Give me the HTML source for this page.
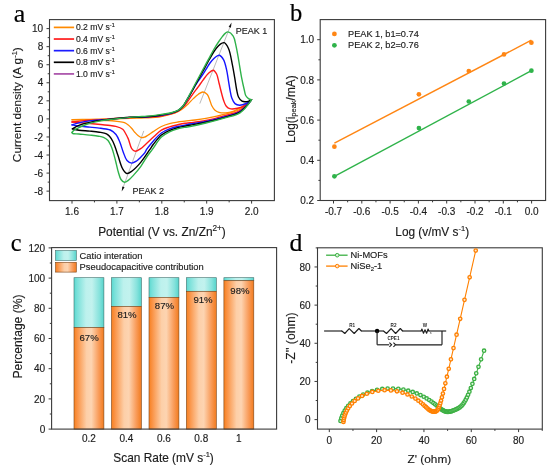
<!DOCTYPE html>
<html><head><meta charset="utf-8"><style>
html,body{margin:0;padding:0;background:#fff;}
svg{display:block;will-change:transform;}
text{stroke:#222;stroke-width:0.15px;}
</style></head><body>
<svg width="550" height="469" viewBox="0 0 550 469">
<rect width="550" height="469" fill="#fff"/>
<line x1="72" y1="200.6" x2="72" y2="203.6" stroke="#3a3a3a" stroke-width="1.0" />
<text x="72" y="214.9" font-size="10" text-anchor="middle" font-family='"Liberation Sans", sans-serif' fill="#1a1a1a" >1.6</text>
<line x1="94.45" y1="200.6" x2="94.45" y2="202.4" stroke="#3a3a3a" stroke-width="1.0" />
<line x1="116.9" y1="200.6" x2="116.9" y2="203.6" stroke="#3a3a3a" stroke-width="1.0" />
<text x="116.9" y="214.9" font-size="10" text-anchor="middle" font-family='"Liberation Sans", sans-serif' fill="#1a1a1a" >1.7</text>
<line x1="139.35" y1="200.6" x2="139.35" y2="202.4" stroke="#3a3a3a" stroke-width="1.0" />
<line x1="161.8" y1="200.6" x2="161.8" y2="203.6" stroke="#3a3a3a" stroke-width="1.0" />
<text x="161.8" y="214.9" font-size="10" text-anchor="middle" font-family='"Liberation Sans", sans-serif' fill="#1a1a1a" >1.8</text>
<line x1="184.25" y1="200.6" x2="184.25" y2="202.4" stroke="#3a3a3a" stroke-width="1.0" />
<line x1="206.7" y1="200.6" x2="206.7" y2="203.6" stroke="#3a3a3a" stroke-width="1.0" />
<text x="206.7" y="214.9" font-size="10" text-anchor="middle" font-family='"Liberation Sans", sans-serif' fill="#1a1a1a" >1.9</text>
<line x1="229.15" y1="200.6" x2="229.15" y2="202.4" stroke="#3a3a3a" stroke-width="1.0" />
<line x1="251.6" y1="200.6" x2="251.6" y2="203.6" stroke="#3a3a3a" stroke-width="1.0" />
<text x="251.6" y="214.9" font-size="10" text-anchor="middle" font-family='"Liberation Sans", sans-serif' fill="#1a1a1a" >2.0</text>
<line x1="46.5" y1="191.14" x2="49.5" y2="191.14" stroke="#3a3a3a" stroke-width="1.0" />
<text x="43.2" y="194.74" font-size="10" text-anchor="end" font-family='"Liberation Sans", sans-serif' fill="#1a1a1a" >-8</text>
<line x1="47.7" y1="182.11" x2="49.5" y2="182.11" stroke="#3a3a3a" stroke-width="1.0" />
<line x1="46.5" y1="173.08" x2="49.5" y2="173.08" stroke="#3a3a3a" stroke-width="1.0" />
<text x="43.2" y="176.68" font-size="10" text-anchor="end" font-family='"Liberation Sans", sans-serif' fill="#1a1a1a" >-6</text>
<line x1="47.7" y1="164.05" x2="49.5" y2="164.05" stroke="#3a3a3a" stroke-width="1.0" />
<line x1="46.5" y1="155.02" x2="49.5" y2="155.02" stroke="#3a3a3a" stroke-width="1.0" />
<text x="43.2" y="158.62" font-size="10" text-anchor="end" font-family='"Liberation Sans", sans-serif' fill="#1a1a1a" >-4</text>
<line x1="47.7" y1="145.99" x2="49.5" y2="145.99" stroke="#3a3a3a" stroke-width="1.0" />
<line x1="46.5" y1="136.96" x2="49.5" y2="136.96" stroke="#3a3a3a" stroke-width="1.0" />
<text x="43.2" y="140.56" font-size="10" text-anchor="end" font-family='"Liberation Sans", sans-serif' fill="#1a1a1a" >-2</text>
<line x1="47.7" y1="127.93" x2="49.5" y2="127.93" stroke="#3a3a3a" stroke-width="1.0" />
<line x1="46.5" y1="118.9" x2="49.5" y2="118.9" stroke="#3a3a3a" stroke-width="1.0" />
<text x="43.2" y="122.5" font-size="10" text-anchor="end" font-family='"Liberation Sans", sans-serif' fill="#1a1a1a" >0</text>
<line x1="47.7" y1="109.87" x2="49.5" y2="109.87" stroke="#3a3a3a" stroke-width="1.0" />
<line x1="46.5" y1="100.84" x2="49.5" y2="100.84" stroke="#3a3a3a" stroke-width="1.0" />
<text x="43.2" y="104.44" font-size="10" text-anchor="end" font-family='"Liberation Sans", sans-serif' fill="#1a1a1a" >2</text>
<line x1="47.7" y1="91.81" x2="49.5" y2="91.81" stroke="#3a3a3a" stroke-width="1.0" />
<line x1="46.5" y1="82.78" x2="49.5" y2="82.78" stroke="#3a3a3a" stroke-width="1.0" />
<text x="43.2" y="86.38" font-size="10" text-anchor="end" font-family='"Liberation Sans", sans-serif' fill="#1a1a1a" >4</text>
<line x1="47.7" y1="73.75" x2="49.5" y2="73.75" stroke="#3a3a3a" stroke-width="1.0" />
<line x1="46.5" y1="64.72" x2="49.5" y2="64.72" stroke="#3a3a3a" stroke-width="1.0" />
<text x="43.2" y="68.32" font-size="10" text-anchor="end" font-family='"Liberation Sans", sans-serif' fill="#1a1a1a" >6</text>
<line x1="47.7" y1="55.69" x2="49.5" y2="55.69" stroke="#3a3a3a" stroke-width="1.0" />
<line x1="46.5" y1="46.66" x2="49.5" y2="46.66" stroke="#3a3a3a" stroke-width="1.0" />
<text x="43.2" y="50.26" font-size="10" text-anchor="end" font-family='"Liberation Sans", sans-serif' fill="#1a1a1a" >8</text>
<line x1="47.7" y1="37.63" x2="49.5" y2="37.63" stroke="#3a3a3a" stroke-width="1.0" />
<line x1="46.5" y1="28.6" x2="49.5" y2="28.6" stroke="#3a3a3a" stroke-width="1.0" />
<text x="43.2" y="32.2" font-size="10" text-anchor="end" font-family='"Liberation Sans", sans-serif' fill="#1a1a1a" >10</text>
<rect x="49.5" y="19.6" width="224.9" height="181" fill="none" stroke="#3a3a3a" stroke-width="1.1"/>
<text x="13.8" y="21.7" font-size="26" text-anchor="start" font-family='"Liberation Serif", serif' fill="#000" style="stroke:#000;stroke-width:0.2px">a</text>
<text x="98.2" y="235.6" font-size="11.9" font-family='"Liberation Sans", sans-serif' fill="#1a1a1a">Potential (V vs. Zn/Zn<tspan font-size="8.2" dy="-5">2+</tspan><tspan dy="5">)</tspan></text>
<text transform="translate(21.4,104.7) rotate(-90)" font-size="11.8" text-anchor="middle" font-family='"Liberation Sans", sans-serif' fill="#1a1a1a">Current density (A g<tspan font-size="7.5" dy="-4.5">-1</tspan><tspan dy="4.5">)</tspan></text>
<line x1="53.8" y1="27.4" x2="74.1" y2="27.4" stroke="#ff8a00" stroke-width="1.7" />
<text x="75.9" y="30.4" font-size="8.6" font-family='"Liberation Sans", sans-serif' fill="#1a1a1a">0.2 mV s<tspan font-size="5.5" dy="-3">-1</tspan></text>
<line x1="53.8" y1="39.03" x2="74.1" y2="39.03" stroke="#ff1c1c" stroke-width="1.7" />
<text x="75.9" y="42.03" font-size="8.6" font-family='"Liberation Sans", sans-serif' fill="#1a1a1a">0.4 mV s<tspan font-size="5.5" dy="-3">-1</tspan></text>
<line x1="53.8" y1="50.66" x2="74.1" y2="50.66" stroke="#1c1cff" stroke-width="1.7" />
<text x="75.9" y="53.66" font-size="8.6" font-family='"Liberation Sans", sans-serif' fill="#1a1a1a">0.6 mV s<tspan font-size="5.5" dy="-3">-1</tspan></text>
<line x1="53.8" y1="62.29" x2="74.1" y2="62.29" stroke="#000000" stroke-width="1.7" />
<text x="75.9" y="65.29" font-size="8.6" font-family='"Liberation Sans", sans-serif' fill="#1a1a1a">0.8 mV s<tspan font-size="5.5" dy="-3">-1</tspan></text>
<line x1="53.8" y1="73.92" x2="74.1" y2="73.92" stroke="#a84ea8" stroke-width="1.7" />
<text x="75.9" y="76.92" font-size="8.6" font-family='"Liberation Sans", sans-serif' fill="#1a1a1a">1.0 mV s<tspan font-size="5.5" dy="-3">-1</tspan></text>
<text x="235.8" y="33.8" font-size="9" text-anchor="start" font-family='"Liberation Sans", sans-serif' fill="#1a1a1a" >PEAK 1</text>
<text x="132.5" y="194.2" font-size="9" text-anchor="start" font-family='"Liberation Sans", sans-serif' fill="#1a1a1a" >PEAK 2</text>
<line x1="199.8" y1="103.6" x2="230.6" y2="25.5" stroke="#a8a8a8" stroke-width="0.8" />
<line x1="143.8" y1="130.9" x2="122.6" y2="188.8" stroke="#a8a8a8" stroke-width="0.8" />
<path d="M231.6,22.6 L230.9,27.7 L228.65,26.8 Z" fill="#111"/>
<path d="M121.7,191.6 L124.55,187.3 L122.3,186.5 Z" fill="#111"/>
<path d="M72.00,119.60 C72.00,119.60 83.84,119.40 90.00,119.30 C96.49,119.20 103.33,119.17 110.00,119.00 C116.67,118.83 123.81,118.49 130.00,118.30 C135.36,118.13 140.00,118.13 145.00,117.90 C150.00,117.67 155.51,117.59 160.00,116.90 C163.75,116.32 167.06,115.35 170.20,114.40 C172.97,113.56 175.64,112.66 177.90,111.60 C179.82,110.70 181.36,109.80 183.00,108.60 C184.77,107.30 186.42,105.63 188.10,104.00 C189.86,102.30 191.54,100.27 193.30,98.60 C194.97,97.02 196.69,95.34 198.40,94.20 C199.86,93.23 201.33,91.97 202.80,92.00 C204.30,92.03 206.14,93.23 207.30,94.50 C208.60,95.92 209.13,98.46 209.90,100.40 C210.62,102.23 210.94,104.14 211.80,105.80 C212.65,107.43 213.72,109.18 215.00,110.30 C216.16,111.31 217.45,111.95 219.00,112.40 C220.86,112.93 223.25,113.04 225.50,112.90 C227.97,112.74 230.70,112.17 233.20,111.30 C235.80,110.40 238.30,108.93 240.80,107.50 C243.40,106.01 246.57,103.98 248.50,102.50 C249.78,101.52 251.50,99.80 251.50,99.80" fill="none" stroke="#ff8a00" stroke-width="1.3" stroke-linejoin="round" stroke-linecap="round"/>
<path d="M251.50,99.80 C251.50,99.80 244.33,106.81 240.00,109.20 C235.53,111.66 229.27,112.97 225.00,114.20 C221.88,115.10 219.73,115.55 216.80,116.20 C213.43,116.95 209.54,117.77 205.90,118.40 C202.28,119.03 198.56,119.54 195.00,120.00 C191.60,120.44 188.07,120.74 185.00,121.10 C182.37,121.41 180.20,121.60 177.70,122.00 C175.04,122.42 172.20,122.86 169.50,123.60 C166.76,124.35 164.04,125.22 161.40,126.50 C158.60,127.85 155.63,130.01 153.20,131.60 C151.20,132.91 149.40,134.30 147.80,135.30 C146.58,136.07 145.62,136.82 144.50,137.20 C143.48,137.54 142.42,137.82 141.40,137.60 C140.25,137.35 139.05,136.33 138.00,135.50 C136.91,134.64 135.99,133.60 135.00,132.50 C133.92,131.29 132.93,129.76 131.80,128.50 C130.69,127.26 129.55,126.00 128.30,125.00 C127.11,124.05 126.05,123.19 124.50,122.60 C122.48,121.84 119.62,121.74 117.00,121.40 C114.14,121.03 111.52,120.70 108.00,120.50 C103.03,120.21 96.00,120.30 90.00,120.20 C84.00,120.10 72.00,119.90 72.00,119.90" fill="none" stroke="#ff8a00" stroke-width="1.3" stroke-linejoin="round" stroke-linecap="round"/>
<path d="M72.00,122.00 C72.00,122.00 78.84,121.22 82.50,120.90 C86.48,120.55 90.79,120.30 95.00,120.00 C99.29,119.70 103.10,119.45 108.00,119.10 C114.37,118.65 123.36,117.79 130.00,117.50 C135.47,117.26 140.00,117.52 145.00,117.30 C150.00,117.08 155.52,116.81 160.00,116.20 C163.69,115.70 166.89,115.09 170.00,114.20 C172.85,113.39 175.55,112.65 178.00,111.20 C180.53,109.71 183.03,107.35 184.90,105.30 C186.52,103.53 187.46,101.70 188.80,99.80 C190.25,97.75 191.74,95.55 193.30,93.40 C194.93,91.16 196.78,88.82 198.40,86.60 C199.94,84.50 201.22,82.51 202.80,80.40 C204.51,78.12 206.37,75.17 208.30,73.40 C209.87,71.96 211.78,70.01 213.20,70.20 C214.52,70.37 215.70,72.33 216.60,74.00 C217.82,76.26 218.20,79.92 219.00,83.00 C219.84,86.24 220.66,89.86 221.50,93.00 C222.26,95.82 222.91,98.64 223.80,101.00 C224.55,102.98 225.18,104.98 226.30,106.30 C227.26,107.42 228.32,108.28 229.80,108.70 C231.80,109.26 234.98,108.84 237.50,108.30 C240.11,107.74 242.87,106.71 245.20,105.30 C247.54,103.88 251.50,99.80 251.50,99.80" fill="none" stroke="#ff1a1a" stroke-width="1.4" stroke-linejoin="round" stroke-linecap="round"/>
<path d="M251.50,99.80 C251.50,99.80 244.41,107.97 240.00,110.60 C235.58,113.24 230.33,114.03 225.00,115.60 C219.05,117.35 212.01,119.28 205.90,120.50 C200.39,121.60 193.81,122.33 190.00,122.80 C187.87,123.06 186.82,123.02 185.00,123.30 C182.79,123.64 180.20,124.22 177.70,124.80 C175.04,125.41 172.20,126.03 169.50,126.90 C166.76,127.79 163.92,128.57 161.40,130.10 C158.73,131.72 156.56,134.20 154.00,136.50 C151.12,139.08 147.47,142.69 145.00,144.90 C143.32,146.40 142.30,147.55 140.70,148.60 C139.04,149.69 136.78,151.46 135.20,151.30 C133.85,151.16 132.70,149.98 131.70,148.60 C130.18,146.49 129.53,141.76 128.30,138.90 C127.27,136.51 126.06,134.25 125.00,132.50 C124.21,131.19 123.86,130.12 122.70,129.20 C121.12,127.94 118.21,127.05 115.80,126.40 C113.32,125.73 110.56,125.62 108.00,125.30 C105.53,124.99 103.38,124.77 100.70,124.50 C97.43,124.17 93.88,123.86 89.80,123.50 C84.59,123.04 72.00,122.00 72.00,122.00" fill="none" stroke="#ff1a1a" stroke-width="1.4" stroke-linejoin="round" stroke-linecap="round"/>
<path d="M72.00,124.90 C72.00,124.90 76.32,123.51 78.90,122.90 C82.10,122.14 85.69,121.43 89.80,120.90 C95.08,120.21 101.65,120.05 108.00,119.50 C114.99,118.90 123.36,117.80 130.00,117.40 C135.47,117.07 140.00,117.30 145.00,117.00 C150.00,116.70 155.52,116.26 160.00,115.60 C163.69,115.06 166.88,114.47 170.00,113.60 C172.85,112.80 175.75,112.03 178.00,110.70 C179.99,109.52 181.50,108.10 183.00,106.30 C184.72,104.24 186.01,101.33 187.50,98.80 C189.01,96.23 190.44,93.62 192.00,91.00 C193.61,88.29 195.25,85.45 197.00,82.80 C198.72,80.19 200.76,77.67 202.40,75.20 C203.90,72.95 205.19,70.71 206.50,68.60 C207.71,66.66 208.73,64.72 210.00,63.00 C211.21,61.37 212.62,59.74 213.90,58.50 C214.95,57.49 215.98,56.56 217.00,56.00 C217.81,55.56 218.57,54.99 219.40,55.20 C220.69,55.53 222.39,57.69 223.50,59.60 C224.94,62.08 225.69,65.93 226.50,69.30 C227.35,72.85 227.80,76.83 228.40,80.40 C228.96,83.72 229.40,86.95 230.00,90.00 C230.55,92.80 230.88,95.63 231.80,98.00 C232.62,100.10 233.57,102.40 235.00,103.60 C236.23,104.63 237.85,105.13 239.50,105.20 C241.46,105.28 243.99,104.41 246.00,103.50 C247.99,102.60 251.50,99.80 251.50,99.80" fill="none" stroke="#1414ff" stroke-width="1.4" stroke-linejoin="round" stroke-linecap="round"/>
<path d="M251.50,99.80 C251.50,99.80 244.46,108.68 240.00,111.50 C235.61,114.28 230.34,115.11 225.00,116.70 C219.05,118.47 212.00,120.26 205.90,121.50 C200.38,122.62 193.80,123.28 190.00,124.00 C187.86,124.40 186.83,124.72 185.00,125.10 C182.80,125.55 180.19,125.90 177.70,126.50 C175.03,127.14 172.18,127.84 169.50,128.90 C166.74,129.99 163.97,131.14 161.40,133.00 C158.50,135.10 155.72,138.40 153.20,141.20 C150.80,143.87 148.02,147.22 146.60,149.40 C145.76,150.69 145.72,151.53 144.90,152.70 C143.76,154.33 141.52,156.52 140.00,158.00 C138.80,159.18 137.91,160.17 136.60,161.00 C135.18,161.90 133.30,163.18 131.70,163.10 C130.10,163.02 128.31,161.93 127.00,160.50 C125.24,158.58 124.28,154.73 123.10,151.70 C121.88,148.57 121.06,144.98 119.80,142.00 C118.66,139.30 117.67,136.54 116.00,134.50 C114.45,132.60 112.15,130.90 110.30,130.00 C108.87,129.31 107.59,129.29 106.10,129.00 C104.42,128.68 102.82,128.46 100.70,128.20 C97.70,127.83 93.43,127.45 89.80,127.10 C86.17,126.75 82.11,126.53 78.90,126.10 C76.33,125.76 72.00,124.90 72.00,124.90" fill="none" stroke="#1414ff" stroke-width="1.4" stroke-linejoin="round" stroke-linecap="round"/>
<path d="M72.40,128.80 C72.40,128.80 75.13,127.13 76.70,126.40 C78.46,125.58 80.43,124.84 82.50,124.20 C84.77,123.49 87.36,122.95 89.80,122.40 C92.23,121.85 94.41,121.35 97.10,120.90 C100.36,120.36 103.73,119.99 108.00,119.50 C114.05,118.81 123.36,117.74 130.00,117.30 C135.47,116.94 140.01,117.15 145.00,116.80 C150.01,116.45 155.52,115.84 160.00,115.20 C163.68,114.67 166.88,114.22 170.00,113.40 C172.85,112.65 175.75,111.92 178.00,110.60 C179.99,109.43 181.53,107.93 183.00,106.20 C184.56,104.36 185.76,101.78 187.00,99.80 C188.07,98.09 188.91,96.89 190.00,95.00 C191.50,92.39 193.32,88.61 195.00,85.50 C196.65,82.45 198.38,79.43 200.00,76.50 C201.54,73.71 202.98,71.08 204.50,68.30 C206.08,65.42 207.69,62.35 209.30,59.50 C210.85,56.76 212.39,53.87 214.00,51.50 C215.40,49.44 216.89,47.43 218.30,46.00 C219.38,44.90 220.42,43.95 221.50,43.40 C222.39,42.95 223.30,42.38 224.20,42.70 C225.64,43.21 227.31,45.95 228.50,48.50 C230.26,52.26 231.15,58.82 232.20,63.80 C233.19,68.50 233.93,73.12 234.70,77.60 C235.43,81.84 235.96,86.47 236.70,90.00 C237.26,92.68 237.50,95.05 238.50,97.00 C239.37,98.69 240.54,100.44 242.00,101.20 C243.40,101.92 245.40,101.84 247.00,101.60 C248.57,101.36 251.50,99.80 251.50,99.80" fill="none" stroke="#000000" stroke-width="1.4" stroke-linejoin="round" stroke-linecap="round"/>
<path d="M251.50,99.80 C251.50,99.80 244.49,109.07 240.00,112.00 C235.62,114.85 230.34,115.68 225.00,117.30 C219.05,119.11 212.00,120.84 205.90,122.20 C200.38,123.43 193.81,124.46 190.00,125.20 C187.86,125.62 186.82,125.83 185.00,126.20 C182.80,126.65 180.18,127.02 177.70,127.70 C175.02,128.43 172.17,129.31 169.50,130.50 C166.74,131.73 163.94,132.94 161.40,135.00 C158.45,137.40 155.26,141.80 153.20,144.50 C151.78,146.35 151.29,147.39 149.90,149.40 C147.62,152.71 143.85,158.66 140.70,162.40 C138.00,165.61 135.03,168.79 132.40,170.70 C130.49,172.08 128.53,173.81 126.90,173.50 C125.21,173.18 123.79,170.72 122.50,168.50 C120.65,165.33 119.30,159.41 118.00,155.60 C116.97,152.59 116.21,149.99 115.30,147.50 C114.51,145.34 113.88,143.39 112.90,141.50 C111.94,139.63 110.72,137.55 109.50,136.20 C108.55,135.15 107.81,134.43 106.50,133.80 C104.69,132.93 101.88,132.63 99.30,132.20 C96.36,131.71 93.08,131.43 89.80,131.10 C86.29,130.75 82.05,130.67 78.90,130.20 C76.44,129.84 72.40,128.80 72.40,128.80" fill="none" stroke="#000000" stroke-width="1.4" stroke-linejoin="round" stroke-linecap="round"/>
<path d="M72.00,132.50 C72.00,132.50 72.97,131.09 73.80,130.40 C75.01,129.40 77.02,128.42 78.90,127.50 C81.09,126.43 83.74,125.36 86.20,124.50 C88.61,123.66 91.06,123.00 93.50,122.40 C95.90,121.81 98.29,121.33 100.70,120.90 C103.12,120.47 105.26,120.17 108.00,119.80 C111.50,119.33 115.54,118.87 120.00,118.40 C125.61,117.81 134.44,116.89 139.00,116.60 C141.56,116.44 142.55,116.59 145.00,116.40 C148.88,116.10 155.49,115.22 160.00,114.60 C163.73,114.08 167.07,113.77 170.20,113.00 C172.98,112.32 175.70,111.66 177.90,110.40 C179.90,109.26 181.52,107.73 183.00,106.00 C184.55,104.19 185.75,101.70 186.90,99.70 C187.91,97.95 188.58,96.62 189.60,94.70 C190.98,92.10 192.79,88.55 194.40,85.50 C195.99,82.48 197.60,79.50 199.20,76.50 C200.80,73.50 202.40,70.46 204.00,67.50 C205.57,64.60 207.13,61.79 208.70,58.90 C210.30,55.96 211.84,52.86 213.50,50.00 C215.11,47.24 216.89,44.41 218.50,42.00 C219.87,39.94 221.22,37.99 222.50,36.40 C223.53,35.12 224.48,33.87 225.50,33.10 C226.29,32.50 226.98,31.80 227.90,31.90 C229.36,32.05 231.88,34.14 233.20,36.10 C234.81,38.50 235.15,42.18 236.00,45.80 C237.06,50.28 237.89,55.82 238.80,61.00 C239.75,66.41 240.61,72.48 241.60,77.60 C242.46,82.05 243.52,86.70 244.30,90.00 C244.82,92.21 244.90,94.01 245.70,95.50 C246.39,96.78 247.46,97.87 248.50,98.60 C249.42,99.24 251.50,99.80 251.50,99.80" fill="none" stroke="#2fb24a" stroke-width="1.4" stroke-linejoin="round" stroke-linecap="round"/>
<path d="M251.50,99.80 C251.50,99.80 244.55,109.79 240.00,112.80 C235.66,115.67 230.33,116.19 225.00,117.80 C219.04,119.60 211.99,121.50 205.90,123.00 C200.37,124.36 193.82,125.78 190.00,126.50 C187.87,126.90 186.82,126.96 185.00,127.30 C182.79,127.72 180.18,128.19 177.70,128.90 C175.02,129.66 172.15,130.49 169.50,131.80 C166.71,133.18 163.96,134.67 161.40,137.10 C158.18,140.15 154.93,146.02 152.40,149.40 C150.60,151.80 149.36,153.12 147.70,155.50 C145.53,158.61 143.14,163.24 140.70,166.60 C138.49,169.65 136.02,172.46 133.80,174.90 C131.91,176.97 130.08,179.13 128.30,180.40 C126.97,181.35 125.61,182.44 124.40,182.30 C123.18,182.16 121.94,180.83 121.00,179.50 C119.74,177.71 119.08,174.58 118.30,172.00 C117.50,169.35 116.98,166.53 116.30,163.80 C115.62,161.06 114.98,158.36 114.20,155.60 C113.39,152.76 112.62,149.65 111.50,147.00 C110.46,144.55 109.32,141.87 107.80,140.20 C106.56,138.83 105.06,137.97 103.50,137.30 C101.95,136.64 100.40,136.53 98.50,136.20 C96.01,135.77 92.87,135.45 89.80,135.10 C86.37,134.71 82.07,134.33 78.90,134.00 C76.45,133.74 73.25,133.89 72.40,133.30 C72.09,133.08 72.00,132.50 72.00,132.50" fill="none" stroke="#2fb24a" stroke-width="1.4" stroke-linejoin="round" stroke-linecap="round"/>
<line x1="333.5" y1="200.5" x2="333.5" y2="203.5" stroke="#3a3a3a" stroke-width="1.0" />
<text x="333.5" y="214.6" font-size="10" text-anchor="middle" font-family='"Liberation Sans", sans-serif' fill="#1a1a1a" >-0.7</text>
<line x1="347.65" y1="200.5" x2="347.65" y2="202.3" stroke="#3a3a3a" stroke-width="1.0" />
<line x1="361.8" y1="200.5" x2="361.8" y2="203.5" stroke="#3a3a3a" stroke-width="1.0" />
<text x="361.8" y="214.6" font-size="10" text-anchor="middle" font-family='"Liberation Sans", sans-serif' fill="#1a1a1a" >-0.6</text>
<line x1="375.95" y1="200.5" x2="375.95" y2="202.3" stroke="#3a3a3a" stroke-width="1.0" />
<line x1="390.1" y1="200.5" x2="390.1" y2="203.5" stroke="#3a3a3a" stroke-width="1.0" />
<text x="390.1" y="214.6" font-size="10" text-anchor="middle" font-family='"Liberation Sans", sans-serif' fill="#1a1a1a" >-0.5</text>
<line x1="404.25" y1="200.5" x2="404.25" y2="202.3" stroke="#3a3a3a" stroke-width="1.0" />
<line x1="418.4" y1="200.5" x2="418.4" y2="203.5" stroke="#3a3a3a" stroke-width="1.0" />
<text x="418.4" y="214.6" font-size="10" text-anchor="middle" font-family='"Liberation Sans", sans-serif' fill="#1a1a1a" >-0.4</text>
<line x1="432.55" y1="200.5" x2="432.55" y2="202.3" stroke="#3a3a3a" stroke-width="1.0" />
<line x1="446.7" y1="200.5" x2="446.7" y2="203.5" stroke="#3a3a3a" stroke-width="1.0" />
<text x="446.7" y="214.6" font-size="10" text-anchor="middle" font-family='"Liberation Sans", sans-serif' fill="#1a1a1a" >-0.3</text>
<line x1="460.85" y1="200.5" x2="460.85" y2="202.3" stroke="#3a3a3a" stroke-width="1.0" />
<line x1="475" y1="200.5" x2="475" y2="203.5" stroke="#3a3a3a" stroke-width="1.0" />
<text x="475" y="214.6" font-size="10" text-anchor="middle" font-family='"Liberation Sans", sans-serif' fill="#1a1a1a" >-0.2</text>
<line x1="489.15" y1="200.5" x2="489.15" y2="202.3" stroke="#3a3a3a" stroke-width="1.0" />
<line x1="503.3" y1="200.5" x2="503.3" y2="203.5" stroke="#3a3a3a" stroke-width="1.0" />
<text x="503.3" y="214.6" font-size="10" text-anchor="middle" font-family='"Liberation Sans", sans-serif' fill="#1a1a1a" >-0.1</text>
<line x1="517.45" y1="200.5" x2="517.45" y2="202.3" stroke="#3a3a3a" stroke-width="1.0" />
<line x1="531.6" y1="200.5" x2="531.6" y2="203.5" stroke="#3a3a3a" stroke-width="1.0" />
<text x="531.6" y="214.6" font-size="10" text-anchor="middle" font-family='"Liberation Sans", sans-serif' fill="#1a1a1a" >0.0</text>
<line x1="317.2" y1="200.5" x2="320.2" y2="200.5" stroke="#3a3a3a" stroke-width="1.0" />
<text x="314.2" y="204.1" font-size="10" text-anchor="end" font-family='"Liberation Sans", sans-serif' fill="#1a1a1a" >0.2</text>
<line x1="318.4" y1="180.4" x2="320.2" y2="180.4" stroke="#3a3a3a" stroke-width="1.0" />
<line x1="317.2" y1="160.3" x2="320.2" y2="160.3" stroke="#3a3a3a" stroke-width="1.0" />
<text x="314.2" y="163.9" font-size="10" text-anchor="end" font-family='"Liberation Sans", sans-serif' fill="#1a1a1a" >0.4</text>
<line x1="318.4" y1="140.2" x2="320.2" y2="140.2" stroke="#3a3a3a" stroke-width="1.0" />
<line x1="317.2" y1="120.1" x2="320.2" y2="120.1" stroke="#3a3a3a" stroke-width="1.0" />
<text x="314.2" y="123.7" font-size="10" text-anchor="end" font-family='"Liberation Sans", sans-serif' fill="#1a1a1a" >0.6</text>
<line x1="318.4" y1="100" x2="320.2" y2="100" stroke="#3a3a3a" stroke-width="1.0" />
<line x1="317.2" y1="79.9" x2="320.2" y2="79.9" stroke="#3a3a3a" stroke-width="1.0" />
<text x="314.2" y="83.5" font-size="10" text-anchor="end" font-family='"Liberation Sans", sans-serif' fill="#1a1a1a" >0.8</text>
<line x1="318.4" y1="59.8" x2="320.2" y2="59.8" stroke="#3a3a3a" stroke-width="1.0" />
<line x1="317.2" y1="39.7" x2="320.2" y2="39.7" stroke="#3a3a3a" stroke-width="1.0" />
<text x="314.2" y="43.3" font-size="10" text-anchor="end" font-family='"Liberation Sans", sans-serif' fill="#1a1a1a" >1.0</text>
<rect x="320.2" y="19.6" width="225.4" height="180.9" fill="none" stroke="#3a3a3a" stroke-width="1.1"/>
<text x="290" y="21.1" font-size="24.5" text-anchor="start" font-family='"Liberation Serif", serif' fill="#000" style="stroke:#000;stroke-width:0.2px">b</text>
<text x="395.3" y="235.5" font-size="11.85" font-family='"Liberation Sans", sans-serif' fill="#1a1a1a">Log (v/mV s<tspan font-size="7.5" dy="-4.5">-1</tspan><tspan dy="4.5">)</tspan></text>
<text transform="translate(295.0,109.2) rotate(-90)" font-size="11.85" text-anchor="middle" font-family='"Liberation Sans", sans-serif' fill="#1a1a1a">Log(i<tspan font-size="7.5" dy="1.3">peak</tspan><tspan dy="-1.3">/mA)</tspan></text>
<line x1="334.4" y1="143.1" x2="531.4" y2="40.2" stroke="#ff8614" stroke-width="1.4" />
<line x1="334.4" y1="176.3" x2="531.4" y2="70.7" stroke="#2fb34a" stroke-width="1.4" />
<circle cx="334.4" cy="146.7" r="2.35" fill="#ff8614"/>
<circle cx="418.9" cy="94.3" r="2.35" fill="#ff8614"/>
<circle cx="468.8" cy="71.0" r="2.35" fill="#ff8614"/>
<circle cx="504" cy="54.4" r="2.35" fill="#ff8614"/>
<circle cx="531.4" cy="42.7" r="2.35" fill="#ff8614"/>
<circle cx="334.4" cy="176.3" r="2.35" fill="#2fb34a"/>
<circle cx="418.9" cy="128.1" r="2.35" fill="#2fb34a"/>
<circle cx="468.8" cy="101.5" r="2.35" fill="#2fb34a"/>
<circle cx="504" cy="83.5" r="2.35" fill="#2fb34a"/>
<circle cx="531.4" cy="70.7" r="2.35" fill="#2fb34a"/>
<circle cx="334.4" cy="33.9" r="2.4" fill="#ff8614"/>
<circle cx="334.4" cy="45.3" r="2.4" fill="#2fb34a"/>
<text x="348" y="37" font-size="9.2" text-anchor="start" font-family='"Liberation Sans", sans-serif' fill="#1a1a1a" >PEAK 1, b1=0.74</text>
<text x="348" y="48.2" font-size="9.2" text-anchor="start" font-family='"Liberation Sans", sans-serif' fill="#1a1a1a" >PEAK 2, b2=0.76</text>
<line x1="48.6" y1="429.1" x2="51.6" y2="429.1" stroke="#3a3a3a" stroke-width="1.0" />
<text x="45.2" y="432.7" font-size="10" text-anchor="end" font-family='"Liberation Sans", sans-serif' fill="#1a1a1a" >0</text>
<line x1="49.8" y1="414" x2="51.6" y2="414" stroke="#3a3a3a" stroke-width="1.0" />
<line x1="48.6" y1="398.9" x2="51.6" y2="398.9" stroke="#3a3a3a" stroke-width="1.0" />
<text x="45.2" y="402.5" font-size="10" text-anchor="end" font-family='"Liberation Sans", sans-serif' fill="#1a1a1a" >20</text>
<line x1="49.8" y1="383.8" x2="51.6" y2="383.8" stroke="#3a3a3a" stroke-width="1.0" />
<line x1="48.6" y1="368.7" x2="51.6" y2="368.7" stroke="#3a3a3a" stroke-width="1.0" />
<text x="45.2" y="372.3" font-size="10" text-anchor="end" font-family='"Liberation Sans", sans-serif' fill="#1a1a1a" >40</text>
<line x1="49.8" y1="353.6" x2="51.6" y2="353.6" stroke="#3a3a3a" stroke-width="1.0" />
<line x1="48.6" y1="338.5" x2="51.6" y2="338.5" stroke="#3a3a3a" stroke-width="1.0" />
<text x="45.2" y="342.1" font-size="10" text-anchor="end" font-family='"Liberation Sans", sans-serif' fill="#1a1a1a" >60</text>
<line x1="49.8" y1="323.4" x2="51.6" y2="323.4" stroke="#3a3a3a" stroke-width="1.0" />
<line x1="48.6" y1="308.3" x2="51.6" y2="308.3" stroke="#3a3a3a" stroke-width="1.0" />
<text x="45.2" y="311.9" font-size="10" text-anchor="end" font-family='"Liberation Sans", sans-serif' fill="#1a1a1a" >80</text>
<line x1="49.8" y1="293.2" x2="51.6" y2="293.2" stroke="#3a3a3a" stroke-width="1.0" />
<line x1="48.6" y1="278.1" x2="51.6" y2="278.1" stroke="#3a3a3a" stroke-width="1.0" />
<text x="45.2" y="281.7" font-size="10" text-anchor="end" font-family='"Liberation Sans", sans-serif' fill="#1a1a1a" >100</text>
<line x1="49.8" y1="263" x2="51.6" y2="263" stroke="#3a3a3a" stroke-width="1.0" />
<line x1="48.6" y1="247.9" x2="51.6" y2="247.9" stroke="#3a3a3a" stroke-width="1.0" />
<text x="45.2" y="251.5" font-size="10" text-anchor="end" font-family='"Liberation Sans", sans-serif' fill="#1a1a1a" >120</text>
<defs>
<linearGradient id="go" x1="0" x2="1" y1="0" y2="0">
<stop offset="0" stop-color="#f7801f"/><stop offset="0.1" stop-color="#fa9142"/>
<stop offset="0.42" stop-color="#fdcfa8"/><stop offset="0.58" stop-color="#fdd4b1"/>
<stop offset="0.82" stop-color="#f99d5c"/><stop offset="1" stop-color="#f27b1e"/></linearGradient>
<linearGradient id="gc" x1="0" x2="1" y1="0" y2="0">
<stop offset="0" stop-color="#5ad8cf"/><stop offset="0.1" stop-color="#78e0d9"/>
<stop offset="0.4" stop-color="#bdf1ed"/><stop offset="0.6" stop-color="#c2f2ee"/>
<stop offset="0.85" stop-color="#86e2dc"/><stop offset="1" stop-color="#55d4cb"/></linearGradient>
</defs>
<rect x="74" y="277.7" width="29.9" height="49.83" fill="url(#gc)" stroke="#3f6f6c" stroke-width="0.6"/>
<rect x="74" y="327.53" width="29.9" height="101.57" fill="url(#go)" stroke="#7a4418" stroke-width="0.6"/>
<text x="89.1" y="340.5" font-size="9.6" text-anchor="middle" font-family='"Liberation Sans", sans-serif' fill="#1a1a1a" >67%</text>
<text x="88.85" y="441.7" font-size="10" text-anchor="middle" font-family='"Liberation Sans", sans-serif' fill="#1a1a1a" >0.2</text>
<rect x="111.5" y="277.7" width="29.9" height="28.69" fill="url(#gc)" stroke="#3f6f6c" stroke-width="0.6"/>
<rect x="111.5" y="306.39" width="29.9" height="122.71" fill="url(#go)" stroke="#7a4418" stroke-width="0.6"/>
<text x="127.05" y="317.5" font-size="9.6" text-anchor="middle" font-family='"Liberation Sans", sans-serif' fill="#1a1a1a" >81%</text>
<text x="126.35" y="441.7" font-size="10" text-anchor="middle" font-family='"Liberation Sans", sans-serif' fill="#1a1a1a" >0.4</text>
<rect x="149" y="277.7" width="29.9" height="19.63" fill="url(#gc)" stroke="#3f6f6c" stroke-width="0.6"/>
<rect x="149" y="297.33" width="29.9" height="131.77" fill="url(#go)" stroke="#7a4418" stroke-width="0.6"/>
<text x="164.45" y="308.8" font-size="9.6" text-anchor="middle" font-family='"Liberation Sans", sans-serif' fill="#1a1a1a" >87%</text>
<text x="163.85" y="441.7" font-size="10" text-anchor="middle" font-family='"Liberation Sans", sans-serif' fill="#1a1a1a" >0.6</text>
<rect x="186.4" y="277.7" width="29.9" height="13.59" fill="url(#gc)" stroke="#3f6f6c" stroke-width="0.6"/>
<rect x="186.4" y="291.29" width="29.9" height="137.81" fill="url(#go)" stroke="#7a4418" stroke-width="0.6"/>
<text x="203.05" y="302.9" font-size="9.6" text-anchor="middle" font-family='"Liberation Sans", sans-serif' fill="#1a1a1a" >91%</text>
<text x="201.25" y="441.7" font-size="10" text-anchor="middle" font-family='"Liberation Sans", sans-serif' fill="#1a1a1a" >0.8</text>
<rect x="223.9" y="277.7" width="29.9" height="3.02" fill="url(#gc)" stroke="#3f6f6c" stroke-width="0.6"/>
<rect x="223.9" y="280.72" width="29.9" height="148.38" fill="url(#go)" stroke="#7a4418" stroke-width="0.6"/>
<text x="239.9" y="293.6" font-size="9.6" text-anchor="middle" font-family='"Liberation Sans", sans-serif' fill="#1a1a1a" >98%</text>
<text x="238.75" y="441.7" font-size="10" text-anchor="middle" font-family='"Liberation Sans", sans-serif' fill="#1a1a1a" >1</text>
<rect x="51.6" y="247.6" width="225" height="181.5" fill="none" stroke="#3a3a3a" stroke-width="1.1"/>
<text x="10.8" y="251.3" font-size="24.2" text-anchor="start" font-family='"Liberation Serif", serif' fill="#000" style="stroke:#000;stroke-width:0.2px">c</text>
<rect x="55.6" y="250.6" width="20.7" height="9.7" fill="url(#gc)" stroke="#3f6f6c" stroke-width="0.6"/>
<rect x="55.6" y="262.3" width="20.7" height="9.8" fill="url(#go)" stroke="#7a4418" stroke-width="0.6"/>
<text x="79.6" y="259" font-size="9.35" text-anchor="start" font-family='"Liberation Sans", sans-serif' fill="#1a1a1a" >Catio interation</text>
<text x="79.6" y="270.4" font-size="9.35" text-anchor="start" font-family='"Liberation Sans", sans-serif' fill="#1a1a1a" >Pseudocapacitive contribution</text>
<text x="113.3" y="461.8" font-size="11.9" font-family='"Liberation Sans", sans-serif' fill="#1a1a1a">Scan Rate (mV s<tspan font-size="7.5" dy="-4.5">-1</tspan><tspan dy="4.5">)</tspan></text>
<text transform="translate(22.4,336.5) rotate(-90)" font-size="12.1" text-anchor="middle" font-family='"Liberation Sans", sans-serif' fill="#1a1a1a">Percentage (%)</text>
<line x1="329.3" y1="429.1" x2="329.3" y2="432.1" stroke="#3a3a3a" stroke-width="1.0" />
<text x="329.3" y="443.6" font-size="10" text-anchor="middle" font-family='"Liberation Sans", sans-serif' fill="#1a1a1a" >0</text>
<line x1="314.5" y1="419.6" x2="317.5" y2="419.6" stroke="#3a3a3a" stroke-width="1.0" />
<text x="310.5" y="423.2" font-size="10" text-anchor="end" font-family='"Liberation Sans", sans-serif' fill="#1a1a1a" >0</text>
<line x1="352.96" y1="429.1" x2="352.96" y2="430.9" stroke="#3a3a3a" stroke-width="1.0" />
<line x1="315.7" y1="400.52" x2="317.5" y2="400.52" stroke="#3a3a3a" stroke-width="1.0" />
<line x1="376.62" y1="429.1" x2="376.62" y2="432.1" stroke="#3a3a3a" stroke-width="1.0" />
<text x="376.62" y="443.6" font-size="10" text-anchor="middle" font-family='"Liberation Sans", sans-serif' fill="#1a1a1a" >20</text>
<line x1="314.5" y1="381.44" x2="317.5" y2="381.44" stroke="#3a3a3a" stroke-width="1.0" />
<text x="310.5" y="385.04" font-size="10" text-anchor="end" font-family='"Liberation Sans", sans-serif' fill="#1a1a1a" >20</text>
<line x1="400.28" y1="429.1" x2="400.28" y2="430.9" stroke="#3a3a3a" stroke-width="1.0" />
<line x1="315.7" y1="362.36" x2="317.5" y2="362.36" stroke="#3a3a3a" stroke-width="1.0" />
<line x1="423.94" y1="429.1" x2="423.94" y2="432.1" stroke="#3a3a3a" stroke-width="1.0" />
<text x="423.94" y="443.6" font-size="10" text-anchor="middle" font-family='"Liberation Sans", sans-serif' fill="#1a1a1a" >40</text>
<line x1="314.5" y1="343.28" x2="317.5" y2="343.28" stroke="#3a3a3a" stroke-width="1.0" />
<text x="310.5" y="346.88" font-size="10" text-anchor="end" font-family='"Liberation Sans", sans-serif' fill="#1a1a1a" >40</text>
<line x1="447.6" y1="429.1" x2="447.6" y2="430.9" stroke="#3a3a3a" stroke-width="1.0" />
<line x1="315.7" y1="324.2" x2="317.5" y2="324.2" stroke="#3a3a3a" stroke-width="1.0" />
<line x1="471.26" y1="429.1" x2="471.26" y2="432.1" stroke="#3a3a3a" stroke-width="1.0" />
<text x="471.26" y="443.6" font-size="10" text-anchor="middle" font-family='"Liberation Sans", sans-serif' fill="#1a1a1a" >60</text>
<line x1="314.5" y1="305.12" x2="317.5" y2="305.12" stroke="#3a3a3a" stroke-width="1.0" />
<text x="310.5" y="308.72" font-size="10" text-anchor="end" font-family='"Liberation Sans", sans-serif' fill="#1a1a1a" >60</text>
<line x1="494.92" y1="429.1" x2="494.92" y2="430.9" stroke="#3a3a3a" stroke-width="1.0" />
<line x1="315.7" y1="286.04" x2="317.5" y2="286.04" stroke="#3a3a3a" stroke-width="1.0" />
<line x1="518.58" y1="429.1" x2="518.58" y2="432.1" stroke="#3a3a3a" stroke-width="1.0" />
<text x="518.58" y="443.6" font-size="10" text-anchor="middle" font-family='"Liberation Sans", sans-serif' fill="#1a1a1a" >80</text>
<line x1="314.5" y1="266.96" x2="317.5" y2="266.96" stroke="#3a3a3a" stroke-width="1.0" />
<text x="310.5" y="270.56" font-size="10" text-anchor="end" font-family='"Liberation Sans", sans-serif' fill="#1a1a1a" >80</text>
<line x1="542.24" y1="429.1" x2="542.24" y2="430.9" stroke="#3a3a3a" stroke-width="1.0" />
<line x1="315.7" y1="247.88" x2="317.5" y2="247.88" stroke="#3a3a3a" stroke-width="1.0" />
<rect x="317.5" y="247.8" width="224.8" height="181.3" fill="none" stroke="#3a3a3a" stroke-width="1.1"/>
<text x="289.6" y="251.2" font-size="25.8" text-anchor="start" font-family='"Liberation Serif", serif' fill="#000" style="stroke:#000;stroke-width:0.2px">d</text>
<text x="407.6" y="462.7" font-size="11.8" font-family='"Liberation Sans", sans-serif' fill="#1a1a1a">Z' (ohm)</text>
<text transform="translate(294.8,338) rotate(-90)" font-size="12.2" text-anchor="middle" font-family='"Liberation Sans", sans-serif' fill="#1a1a1a">-Z'' (ohm)</text>
<line x1="326.1" y1="255.2" x2="347.6" y2="255.2" stroke="#3cb043" stroke-width="1.3" />
<line x1="326.1" y1="266.1" x2="347.6" y2="266.1" stroke="#ff8000" stroke-width="1.3" />
<circle cx="337.2" cy="255.2" r="1.8" fill="#d8f0d8" stroke="#3cb043" stroke-width="1"/>
<circle cx="337.2" cy="266.1" r="1.8" fill="#ffe0c0" stroke="#ff8000" stroke-width="1"/>
<text x="350.5" y="257.8" font-size="9.3" text-anchor="start" font-family='"Liberation Sans", sans-serif' fill="#1a1a1a" >Ni-MOFs</text>
<polyline points="340.49,420.95 341.29,418.22 342.25,415.62 343.39,413.10 344.74,410.63 346.33,408.20 348.21,405.78 350.42,403.40 352.99,401.04 355.96,398.75 359.35,396.56 363.18,394.51 367.43,392.67 372.07,391.10 377.04,389.86 382.26,388.99 387.62,388.54 393.01,388.50 398.31,388.87 403.41,389.61 408.23,390.67 412.70,391.98 416.79,393.47 420.47,395.08 423.76,396.75 426.66,398.41 429.22,400.03 431.47,401.58 433.43,403.03 435.16,404.37 436.68,405.59 438.03,406.68 439.23,407.66 440.32,408.52 441.31,409.26 442.23,409.90 443.08,410.43 443.89,410.87 444.67,411.22 445.42,411.48 446.16,411.67 446.90,411.78 447.64,411.83 448.39,411.81 449.16,411.72 449.95,411.58 450.78,411.38 451.64,411.13 452.55,410.83 453.49,410.49 454.48,410.10 455.49,409.68 456.52,409.21 457.56,408.68 458.60,408.09 459.64,407.40 460.66,406.60 461.66,405.65 462.67,404.52 463.67,403.17 464.70,401.56 465.77,399.66 466.89,397.41 468.09,394.76 469.39,391.67 470.83,388.06 472.42,383.86 474.21,378.99 476.22,373.36 478.50,366.85 481.09,359.35 484.05,350.71" fill="none" stroke="#3cb043" stroke-width="1.1" stroke-linejoin="round" stroke-linecap="round" />
<circle cx="340.49" cy="420.95" r="1.7" fill="#e4f5e4" stroke="#3cb043" stroke-width="1.35"/>
<circle cx="341.29" cy="418.22" r="1.7" fill="#e4f5e4" stroke="#3cb043" stroke-width="1.35"/>
<circle cx="342.25" cy="415.62" r="1.7" fill="#e4f5e4" stroke="#3cb043" stroke-width="1.35"/>
<circle cx="343.39" cy="413.10" r="1.7" fill="#e4f5e4" stroke="#3cb043" stroke-width="1.35"/>
<circle cx="344.74" cy="410.63" r="1.7" fill="#e4f5e4" stroke="#3cb043" stroke-width="1.35"/>
<circle cx="346.33" cy="408.20" r="1.7" fill="#e4f5e4" stroke="#3cb043" stroke-width="1.35"/>
<circle cx="348.21" cy="405.78" r="1.7" fill="#e4f5e4" stroke="#3cb043" stroke-width="1.35"/>
<circle cx="350.42" cy="403.40" r="1.7" fill="#e4f5e4" stroke="#3cb043" stroke-width="1.35"/>
<circle cx="352.99" cy="401.04" r="1.7" fill="#e4f5e4" stroke="#3cb043" stroke-width="1.35"/>
<circle cx="355.96" cy="398.75" r="1.7" fill="#e4f5e4" stroke="#3cb043" stroke-width="1.35"/>
<circle cx="359.35" cy="396.56" r="1.7" fill="#e4f5e4" stroke="#3cb043" stroke-width="1.35"/>
<circle cx="363.18" cy="394.51" r="1.7" fill="#e4f5e4" stroke="#3cb043" stroke-width="1.35"/>
<circle cx="367.43" cy="392.67" r="1.7" fill="#e4f5e4" stroke="#3cb043" stroke-width="1.35"/>
<circle cx="372.07" cy="391.10" r="1.7" fill="#e4f5e4" stroke="#3cb043" stroke-width="1.35"/>
<circle cx="377.04" cy="389.86" r="1.7" fill="#e4f5e4" stroke="#3cb043" stroke-width="1.35"/>
<circle cx="382.26" cy="388.99" r="1.7" fill="#e4f5e4" stroke="#3cb043" stroke-width="1.35"/>
<circle cx="387.62" cy="388.54" r="1.7" fill="#e4f5e4" stroke="#3cb043" stroke-width="1.35"/>
<circle cx="393.01" cy="388.50" r="1.7" fill="#e4f5e4" stroke="#3cb043" stroke-width="1.35"/>
<circle cx="398.31" cy="388.87" r="1.7" fill="#e4f5e4" stroke="#3cb043" stroke-width="1.35"/>
<circle cx="403.41" cy="389.61" r="1.7" fill="#e4f5e4" stroke="#3cb043" stroke-width="1.35"/>
<circle cx="408.23" cy="390.67" r="1.7" fill="#e4f5e4" stroke="#3cb043" stroke-width="1.35"/>
<circle cx="412.70" cy="391.98" r="1.7" fill="#e4f5e4" stroke="#3cb043" stroke-width="1.35"/>
<circle cx="416.79" cy="393.47" r="1.7" fill="#e4f5e4" stroke="#3cb043" stroke-width="1.35"/>
<circle cx="420.47" cy="395.08" r="1.7" fill="#e4f5e4" stroke="#3cb043" stroke-width="1.35"/>
<circle cx="423.76" cy="396.75" r="1.7" fill="#e4f5e4" stroke="#3cb043" stroke-width="1.35"/>
<circle cx="426.66" cy="398.41" r="1.7" fill="#e4f5e4" stroke="#3cb043" stroke-width="1.35"/>
<circle cx="429.22" cy="400.03" r="1.7" fill="#e4f5e4" stroke="#3cb043" stroke-width="1.35"/>
<circle cx="431.47" cy="401.58" r="1.7" fill="#e4f5e4" stroke="#3cb043" stroke-width="1.35"/>
<circle cx="433.43" cy="403.03" r="1.7" fill="#e4f5e4" stroke="#3cb043" stroke-width="1.35"/>
<circle cx="435.16" cy="404.37" r="1.7" fill="#e4f5e4" stroke="#3cb043" stroke-width="1.35"/>
<circle cx="436.68" cy="405.59" r="1.7" fill="#e4f5e4" stroke="#3cb043" stroke-width="1.35"/>
<circle cx="438.03" cy="406.68" r="1.7" fill="#e4f5e4" stroke="#3cb043" stroke-width="1.35"/>
<circle cx="439.23" cy="407.66" r="1.7" fill="#e4f5e4" stroke="#3cb043" stroke-width="1.35"/>
<circle cx="440.32" cy="408.52" r="1.7" fill="#e4f5e4" stroke="#3cb043" stroke-width="1.35"/>
<circle cx="441.31" cy="409.26" r="1.7" fill="#e4f5e4" stroke="#3cb043" stroke-width="1.35"/>
<circle cx="442.23" cy="409.90" r="1.7" fill="#e4f5e4" stroke="#3cb043" stroke-width="1.35"/>
<circle cx="443.08" cy="410.43" r="1.7" fill="#e4f5e4" stroke="#3cb043" stroke-width="1.35"/>
<circle cx="443.89" cy="410.87" r="1.7" fill="#e4f5e4" stroke="#3cb043" stroke-width="1.35"/>
<circle cx="444.67" cy="411.22" r="1.7" fill="#e4f5e4" stroke="#3cb043" stroke-width="1.35"/>
<circle cx="445.42" cy="411.48" r="1.7" fill="#e4f5e4" stroke="#3cb043" stroke-width="1.35"/>
<circle cx="446.16" cy="411.67" r="1.7" fill="#e4f5e4" stroke="#3cb043" stroke-width="1.35"/>
<circle cx="446.90" cy="411.78" r="1.7" fill="#e4f5e4" stroke="#3cb043" stroke-width="1.35"/>
<circle cx="447.64" cy="411.83" r="1.7" fill="#e4f5e4" stroke="#3cb043" stroke-width="1.35"/>
<circle cx="448.39" cy="411.81" r="1.7" fill="#e4f5e4" stroke="#3cb043" stroke-width="1.35"/>
<circle cx="449.16" cy="411.72" r="1.7" fill="#e4f5e4" stroke="#3cb043" stroke-width="1.35"/>
<circle cx="449.95" cy="411.58" r="1.7" fill="#e4f5e4" stroke="#3cb043" stroke-width="1.35"/>
<circle cx="450.78" cy="411.38" r="1.7" fill="#e4f5e4" stroke="#3cb043" stroke-width="1.35"/>
<circle cx="451.64" cy="411.13" r="1.7" fill="#e4f5e4" stroke="#3cb043" stroke-width="1.35"/>
<circle cx="452.55" cy="410.83" r="1.7" fill="#e4f5e4" stroke="#3cb043" stroke-width="1.35"/>
<circle cx="453.49" cy="410.49" r="1.7" fill="#e4f5e4" stroke="#3cb043" stroke-width="1.35"/>
<circle cx="454.48" cy="410.10" r="1.7" fill="#e4f5e4" stroke="#3cb043" stroke-width="1.35"/>
<circle cx="455.49" cy="409.68" r="1.7" fill="#e4f5e4" stroke="#3cb043" stroke-width="1.35"/>
<circle cx="456.52" cy="409.21" r="1.7" fill="#e4f5e4" stroke="#3cb043" stroke-width="1.35"/>
<circle cx="457.56" cy="408.68" r="1.7" fill="#e4f5e4" stroke="#3cb043" stroke-width="1.35"/>
<circle cx="458.60" cy="408.09" r="1.7" fill="#e4f5e4" stroke="#3cb043" stroke-width="1.35"/>
<circle cx="459.64" cy="407.40" r="1.7" fill="#e4f5e4" stroke="#3cb043" stroke-width="1.35"/>
<circle cx="460.66" cy="406.60" r="1.7" fill="#e4f5e4" stroke="#3cb043" stroke-width="1.35"/>
<circle cx="461.66" cy="405.65" r="1.7" fill="#e4f5e4" stroke="#3cb043" stroke-width="1.35"/>
<circle cx="462.67" cy="404.52" r="1.7" fill="#e4f5e4" stroke="#3cb043" stroke-width="1.35"/>
<circle cx="463.67" cy="403.17" r="1.7" fill="#e4f5e4" stroke="#3cb043" stroke-width="1.35"/>
<circle cx="464.70" cy="401.56" r="1.7" fill="#e4f5e4" stroke="#3cb043" stroke-width="1.35"/>
<circle cx="465.77" cy="399.66" r="1.7" fill="#e4f5e4" stroke="#3cb043" stroke-width="1.35"/>
<circle cx="466.89" cy="397.41" r="1.7" fill="#e4f5e4" stroke="#3cb043" stroke-width="1.35"/>
<circle cx="468.09" cy="394.76" r="1.7" fill="#e4f5e4" stroke="#3cb043" stroke-width="1.35"/>
<circle cx="469.39" cy="391.67" r="1.7" fill="#e4f5e4" stroke="#3cb043" stroke-width="1.35"/>
<circle cx="470.83" cy="388.06" r="1.7" fill="#e4f5e4" stroke="#3cb043" stroke-width="1.35"/>
<circle cx="472.42" cy="383.86" r="1.7" fill="#e4f5e4" stroke="#3cb043" stroke-width="1.35"/>
<circle cx="474.21" cy="378.99" r="1.7" fill="#e4f5e4" stroke="#3cb043" stroke-width="1.35"/>
<circle cx="476.22" cy="373.36" r="1.7" fill="#e4f5e4" stroke="#3cb043" stroke-width="1.35"/>
<circle cx="478.50" cy="366.85" r="1.7" fill="#e4f5e4" stroke="#3cb043" stroke-width="1.35"/>
<circle cx="481.09" cy="359.35" r="1.7" fill="#e4f5e4" stroke="#3cb043" stroke-width="1.35"/>
<circle cx="484.05" cy="350.71" r="1.7" fill="#e4f5e4" stroke="#3cb043" stroke-width="1.35"/>
<polyline points="343.42,421.93 343.71,420.01 344.07,418.16 344.53,416.32 345.13,414.45 345.90,412.51 346.90,410.46 348.19,408.28 349.85,405.95 351.97,403.50 354.66,400.95 357.99,398.40 362.05,395.95 366.84,393.75 372.31,391.96 378.30,390.75 384.59,390.22 390.89,390.40 396.95,391.26 402.53,392.67 407.49,394.47 411.77,396.50 415.39,398.61 418.39,400.66 420.88,402.59 422.94,404.34 424.65,405.89 426.09,407.23 427.33,408.35 428.42,409.28 429.41,410.02 430.34,410.60 431.22,411.03 432.08,411.33 432.92,411.53 433.74,411.62 434.54,411.61 435.29,411.50 435.99,411.26 436.65,410.86 437.27,410.28 437.87,409.47 438.45,408.41 439.04,407.04 439.66,405.31 440.33,403.17 441.08,400.54 441.92,397.35 442.89,393.51 444.02,388.88 445.35,383.33 446.91,376.70 448.75,368.78 450.92,359.35 453.50,348.10 456.56,334.72 460.20,318.80 464.51,299.86 469.64,277.33 475.73,250.54" fill="none" stroke="#ff8000" stroke-width="1.1" stroke-linejoin="round" stroke-linecap="round" />
<circle cx="343.42" cy="421.93" r="1.7" fill="#ffe6cc" stroke="#ff8000" stroke-width="1.35"/>
<circle cx="343.71" cy="420.01" r="1.7" fill="#ffe6cc" stroke="#ff8000" stroke-width="1.35"/>
<circle cx="344.07" cy="418.16" r="1.7" fill="#ffe6cc" stroke="#ff8000" stroke-width="1.35"/>
<circle cx="344.53" cy="416.32" r="1.7" fill="#ffe6cc" stroke="#ff8000" stroke-width="1.35"/>
<circle cx="345.13" cy="414.45" r="1.7" fill="#ffe6cc" stroke="#ff8000" stroke-width="1.35"/>
<circle cx="345.90" cy="412.51" r="1.7" fill="#ffe6cc" stroke="#ff8000" stroke-width="1.35"/>
<circle cx="346.90" cy="410.46" r="1.7" fill="#ffe6cc" stroke="#ff8000" stroke-width="1.35"/>
<circle cx="348.19" cy="408.28" r="1.7" fill="#ffe6cc" stroke="#ff8000" stroke-width="1.35"/>
<circle cx="349.85" cy="405.95" r="1.7" fill="#ffe6cc" stroke="#ff8000" stroke-width="1.35"/>
<circle cx="351.97" cy="403.50" r="1.7" fill="#ffe6cc" stroke="#ff8000" stroke-width="1.35"/>
<circle cx="354.66" cy="400.95" r="1.7" fill="#ffe6cc" stroke="#ff8000" stroke-width="1.35"/>
<circle cx="357.99" cy="398.40" r="1.7" fill="#ffe6cc" stroke="#ff8000" stroke-width="1.35"/>
<circle cx="362.05" cy="395.95" r="1.7" fill="#ffe6cc" stroke="#ff8000" stroke-width="1.35"/>
<circle cx="366.84" cy="393.75" r="1.7" fill="#ffe6cc" stroke="#ff8000" stroke-width="1.35"/>
<circle cx="372.31" cy="391.96" r="1.7" fill="#ffe6cc" stroke="#ff8000" stroke-width="1.35"/>
<circle cx="378.30" cy="390.75" r="1.7" fill="#ffe6cc" stroke="#ff8000" stroke-width="1.35"/>
<circle cx="384.59" cy="390.22" r="1.7" fill="#ffe6cc" stroke="#ff8000" stroke-width="1.35"/>
<circle cx="390.89" cy="390.40" r="1.7" fill="#ffe6cc" stroke="#ff8000" stroke-width="1.35"/>
<circle cx="396.95" cy="391.26" r="1.7" fill="#ffe6cc" stroke="#ff8000" stroke-width="1.35"/>
<circle cx="402.53" cy="392.67" r="1.7" fill="#ffe6cc" stroke="#ff8000" stroke-width="1.35"/>
<circle cx="407.49" cy="394.47" r="1.7" fill="#ffe6cc" stroke="#ff8000" stroke-width="1.35"/>
<circle cx="411.77" cy="396.50" r="1.7" fill="#ffe6cc" stroke="#ff8000" stroke-width="1.35"/>
<circle cx="415.39" cy="398.61" r="1.7" fill="#ffe6cc" stroke="#ff8000" stroke-width="1.35"/>
<circle cx="418.39" cy="400.66" r="1.7" fill="#ffe6cc" stroke="#ff8000" stroke-width="1.35"/>
<circle cx="420.88" cy="402.59" r="1.7" fill="#ffe6cc" stroke="#ff8000" stroke-width="1.35"/>
<circle cx="422.94" cy="404.34" r="1.7" fill="#ffe6cc" stroke="#ff8000" stroke-width="1.35"/>
<circle cx="424.65" cy="405.89" r="1.7" fill="#ffe6cc" stroke="#ff8000" stroke-width="1.35"/>
<circle cx="426.09" cy="407.23" r="1.7" fill="#ffe6cc" stroke="#ff8000" stroke-width="1.35"/>
<circle cx="427.33" cy="408.35" r="1.7" fill="#ffe6cc" stroke="#ff8000" stroke-width="1.35"/>
<circle cx="428.42" cy="409.28" r="1.7" fill="#ffe6cc" stroke="#ff8000" stroke-width="1.35"/>
<circle cx="429.41" cy="410.02" r="1.7" fill="#ffe6cc" stroke="#ff8000" stroke-width="1.35"/>
<circle cx="430.34" cy="410.60" r="1.7" fill="#ffe6cc" stroke="#ff8000" stroke-width="1.35"/>
<circle cx="431.22" cy="411.03" r="1.7" fill="#ffe6cc" stroke="#ff8000" stroke-width="1.35"/>
<circle cx="432.08" cy="411.33" r="1.7" fill="#ffe6cc" stroke="#ff8000" stroke-width="1.35"/>
<circle cx="432.92" cy="411.53" r="1.7" fill="#ffe6cc" stroke="#ff8000" stroke-width="1.35"/>
<circle cx="433.74" cy="411.62" r="1.7" fill="#ffe6cc" stroke="#ff8000" stroke-width="1.35"/>
<circle cx="434.54" cy="411.61" r="1.7" fill="#ffe6cc" stroke="#ff8000" stroke-width="1.35"/>
<circle cx="435.29" cy="411.50" r="1.7" fill="#ffe6cc" stroke="#ff8000" stroke-width="1.35"/>
<circle cx="435.99" cy="411.26" r="1.7" fill="#ffe6cc" stroke="#ff8000" stroke-width="1.35"/>
<circle cx="436.65" cy="410.86" r="1.7" fill="#ffe6cc" stroke="#ff8000" stroke-width="1.35"/>
<circle cx="437.27" cy="410.28" r="1.7" fill="#ffe6cc" stroke="#ff8000" stroke-width="1.35"/>
<circle cx="437.87" cy="409.47" r="1.7" fill="#ffe6cc" stroke="#ff8000" stroke-width="1.35"/>
<circle cx="438.45" cy="408.41" r="1.7" fill="#ffe6cc" stroke="#ff8000" stroke-width="1.35"/>
<circle cx="439.04" cy="407.04" r="1.7" fill="#ffe6cc" stroke="#ff8000" stroke-width="1.35"/>
<circle cx="439.66" cy="405.31" r="1.7" fill="#ffe6cc" stroke="#ff8000" stroke-width="1.35"/>
<circle cx="440.33" cy="403.17" r="1.7" fill="#ffe6cc" stroke="#ff8000" stroke-width="1.35"/>
<circle cx="441.08" cy="400.54" r="1.7" fill="#ffe6cc" stroke="#ff8000" stroke-width="1.35"/>
<circle cx="441.92" cy="397.35" r="1.7" fill="#ffe6cc" stroke="#ff8000" stroke-width="1.35"/>
<circle cx="442.89" cy="393.51" r="1.7" fill="#ffe6cc" stroke="#ff8000" stroke-width="1.35"/>
<circle cx="444.02" cy="388.88" r="1.7" fill="#ffe6cc" stroke="#ff8000" stroke-width="1.35"/>
<circle cx="445.35" cy="383.33" r="1.7" fill="#ffe6cc" stroke="#ff8000" stroke-width="1.35"/>
<circle cx="446.91" cy="376.70" r="1.7" fill="#ffe6cc" stroke="#ff8000" stroke-width="1.35"/>
<circle cx="448.75" cy="368.78" r="1.7" fill="#ffe6cc" stroke="#ff8000" stroke-width="1.35"/>
<circle cx="450.92" cy="359.35" r="1.7" fill="#ffe6cc" stroke="#ff8000" stroke-width="1.35"/>
<circle cx="453.50" cy="348.10" r="1.7" fill="#ffe6cc" stroke="#ff8000" stroke-width="1.35"/>
<circle cx="456.56" cy="334.72" r="1.7" fill="#ffe6cc" stroke="#ff8000" stroke-width="1.35"/>
<circle cx="460.20" cy="318.80" r="1.7" fill="#ffe6cc" stroke="#ff8000" stroke-width="1.35"/>
<circle cx="464.51" cy="299.86" r="1.7" fill="#ffe6cc" stroke="#ff8000" stroke-width="1.35"/>
<circle cx="469.64" cy="277.33" r="1.7" fill="#ffe6cc" stroke="#ff8000" stroke-width="1.35"/>
<circle cx="475.73" cy="250.54" r="1.7" fill="#ffe6cc" stroke="#ff8000" stroke-width="1.35"/>
<line x1="324.1" y1="331" x2="342" y2="331" stroke="#1c1c1c" stroke-width="1.15" />
<polyline points="341.90,331.00 344.80,333.50 349.20,328.60 354.20,333.50 358.90,328.50 361.40,331.00" fill="none" stroke="#1c1c1c" stroke-width="1.15" stroke-linejoin="round" stroke-linecap="round" />
<line x1="361.4" y1="331" x2="383.5" y2="331" stroke="#1c1c1c" stroke-width="1.15" />
<polyline points="383.50,331.00 386.50,333.50 391.10,328.60 395.60,333.50 400.30,328.50 402.60,331.00" fill="none" stroke="#1c1c1c" stroke-width="1.15" stroke-linejoin="round" stroke-linecap="round" />
<line x1="402.6" y1="331" x2="421.2" y2="331" stroke="#1c1c1c" stroke-width="1.15" />
<polyline points="421.20,331.00 421.90,329.00 423.50,333.20 425.00,329.80 426.60,333.20 428.10,329.00 428.80,331.00" fill="none" stroke="#1c1c1c" stroke-width="1.15" stroke-linejoin="round" stroke-linecap="round" />
<line x1="428.8" y1="331" x2="446.2" y2="331" stroke="#1c1c1c" stroke-width="1.15" />
<circle cx="377.1" cy="331.0" r="2.2" fill="#000"/>
<line x1="377.1" y1="331" x2="377.1" y2="344.8" stroke="#1c1c1c" stroke-width="1.15" />
<line x1="442" y1="331" x2="442" y2="344.8" stroke="#1c1c1c" stroke-width="1.15" />
<line x1="377.1" y1="344.8" x2="389.2" y2="344.8" stroke="#1c1c1c" stroke-width="1.15" />
<line x1="395.8" y1="344.8" x2="442" y2="344.8" stroke="#1c1c1c" stroke-width="1.15" />
<path d="M389.4,342.7 L391.6,344.8 L389.4,346.9 M393.4,342.7 L395.6,344.8 L393.4,346.9" fill="none" stroke="#1c1c1c" stroke-width="1.1"/>
<text x="352.2" y="326.9" font-size="4.6" text-anchor="middle" font-family='"Liberation Sans", sans-serif' fill="#2a2a2a" font-weight="bold" style="stroke:none">R1</text>
<text x="393.5" y="326.7" font-size="4.6" text-anchor="middle" font-family='"Liberation Sans", sans-serif' fill="#2a2a2a" font-weight="bold" style="stroke:none">R2</text>
<text x="424.8" y="326.6" font-size="4.6" text-anchor="middle" font-family='"Liberation Sans", sans-serif' fill="#2a2a2a" font-weight="bold" style="stroke:none">W</text>
<text x="430.7" y="333.9" font-size="3.6" text-anchor="middle" font-family='"Liberation Sans", sans-serif' fill="#2a2a2a" style="stroke:none">s</text>
<text x="393.5" y="340" font-size="4.6" text-anchor="middle" font-family='"Liberation Sans", sans-serif' fill="#2a2a2a" font-weight="bold" style="stroke:none">CPE1</text>
<text x="350.5" y="268.6" font-size="9.3" font-family='"Liberation Sans", sans-serif' fill="#1a1a1a">NiSe<tspan font-size="6" dy="2">2</tspan><tspan dy="-2">-1</tspan></text>
</svg></body></html>
